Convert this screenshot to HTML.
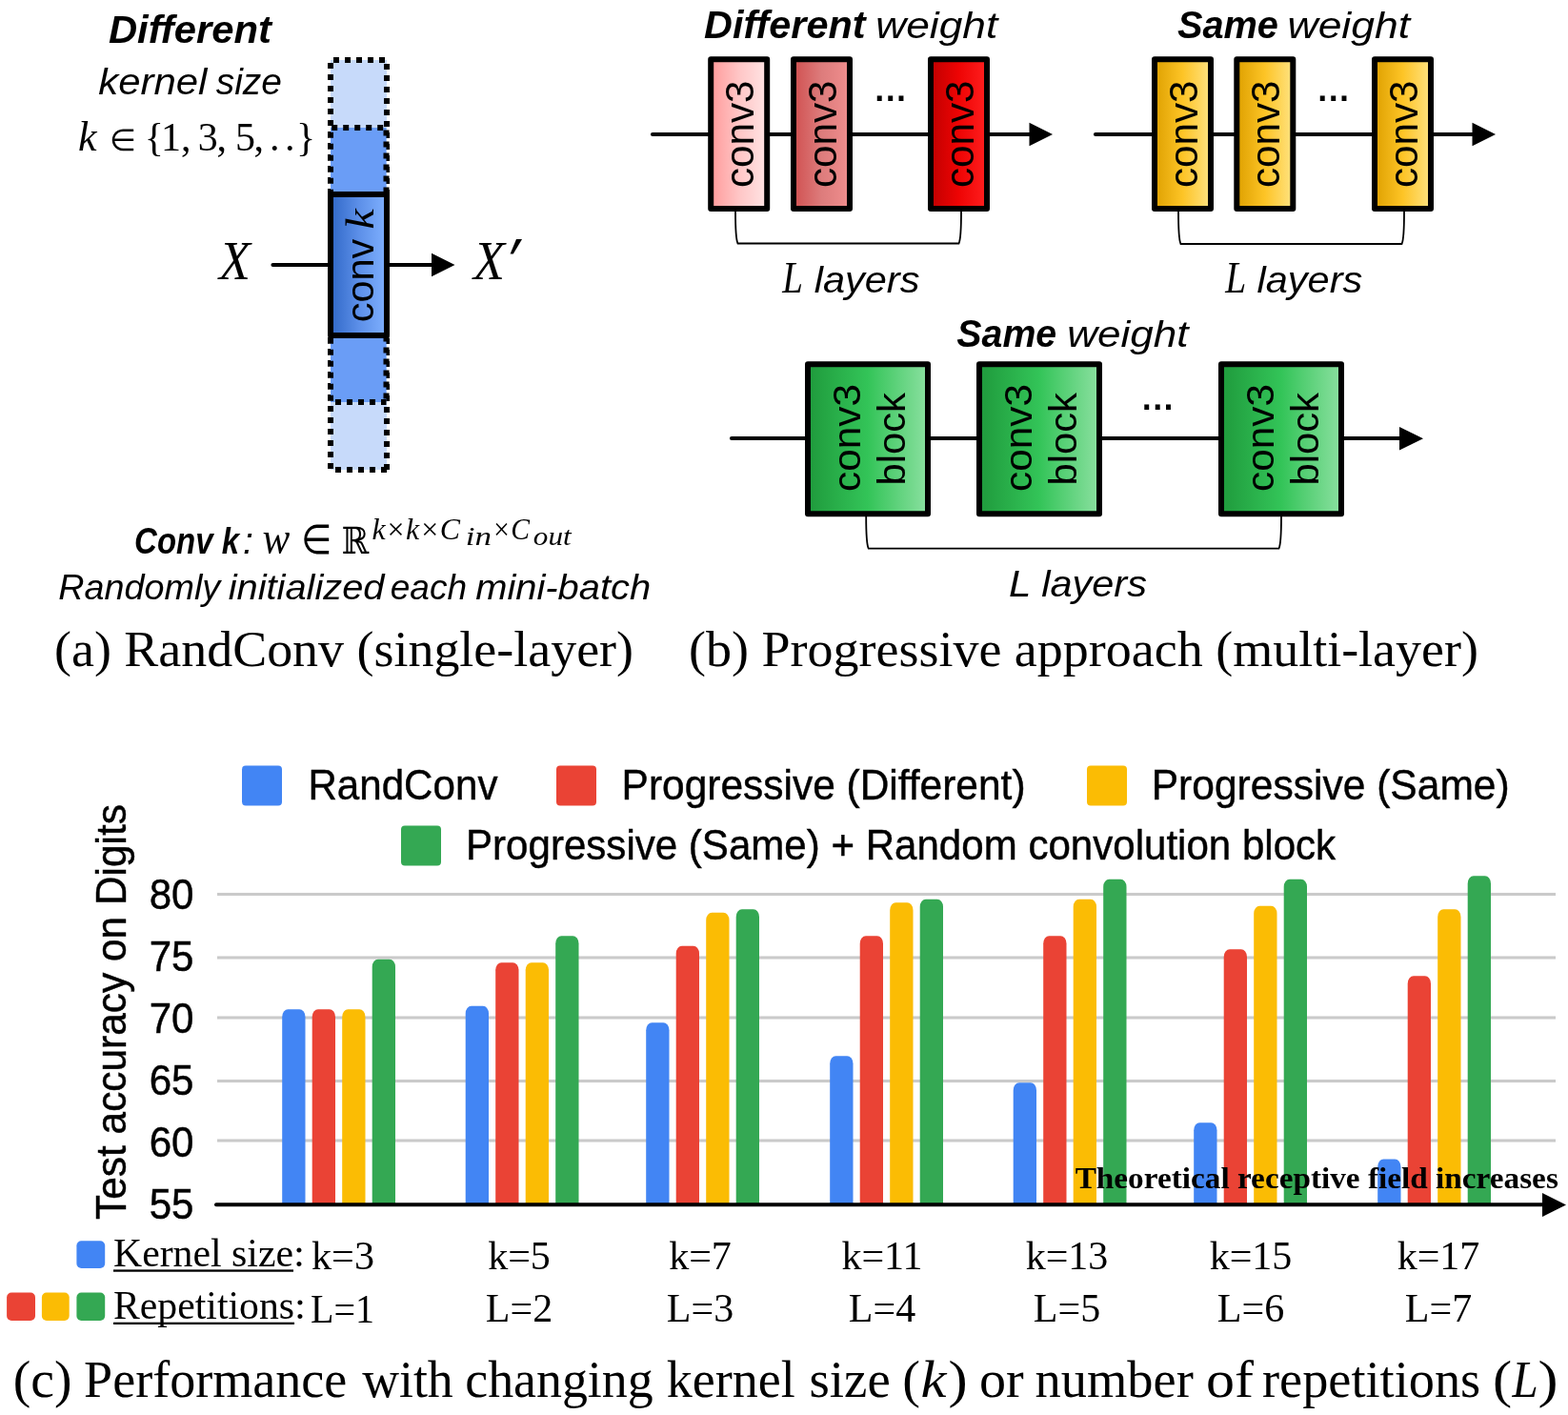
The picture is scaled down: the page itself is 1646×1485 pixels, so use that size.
<!DOCTYPE html>
<html lang="en">
<head>
<meta charset="utf-8">
<title>RandConv vs Progressive approach</title>
<style>
html,body{margin:0;padding:0;background:#fff;}
body{width:1646px;height:1485px;overflow:hidden;}
svg{display:block;}
text{white-space:pre;}
</style>
</head>
<body>
<svg width="1646" height="1485" viewBox="0 0 1646 1485">
<defs>
<linearGradient id="gBlue" x1="0" y1="0" x2="1" y2="0"><stop offset="0" stop-color="#3068c8"/><stop offset="0.5" stop-color="#5c8fe8"/><stop offset="1" stop-color="#7fb0ff"/></linearGradient>
<linearGradient id="gR1" x1="0" y1="0" x2="1" y2="0"><stop offset="0" stop-color="#ff9a9a"/><stop offset="0.5" stop-color="#ffc6c6"/><stop offset="1" stop-color="#ffe4e4"/></linearGradient>
<linearGradient id="gR2" x1="0" y1="0" x2="1" y2="0"><stop offset="0" stop-color="#d05050"/><stop offset="0.5" stop-color="#dd7c7c"/><stop offset="1" stop-color="#f08e8e"/></linearGradient>
<linearGradient id="gR3" x1="0" y1="0" x2="1" y2="0"><stop offset="0" stop-color="#c00000"/><stop offset="0.5" stop-color="#ee0404"/><stop offset="1" stop-color="#ff1f1f"/></linearGradient>
<linearGradient id="gY" x1="0" y1="0" x2="1" y2="0"><stop offset="0" stop-color="#dea000"/><stop offset="0.5" stop-color="#fdc426"/><stop offset="1" stop-color="#ffe382"/></linearGradient>
<linearGradient id="gG" x1="0" y1="0" x2="1" y2="0"><stop offset="0" stop-color="#1f9a3c"/><stop offset="0.5" stop-color="#33c458"/><stop offset="1" stop-color="#8be0a0"/></linearGradient>
</defs>
<rect x="0" y="0" width="1646" height="1485" fill="#ffffff"/>

<g id="panel-a">
<text x="113.92" y="45" font-size="40" font-family='"Liberation Sans", sans-serif' font-style="italic" font-weight="bold" fill="#000" textLength="171.06" lengthAdjust="spacingAndGlyphs">Different</text>
<text x="103.18" y="99.4" font-size="38.5" font-family='"Liberation Sans", sans-serif' font-style="italic" font-weight="normal" fill="#000" textLength="114.16" lengthAdjust="spacingAndGlyphs">kernel</text>
<text x="226.75" y="99.4" font-size="38.5" font-family='"Liberation Sans", sans-serif' font-style="italic" font-weight="normal" fill="#000" textLength="69.24" lengthAdjust="spacingAndGlyphs">size</text>
<text x="82" y="157.5" font-size="44" font-family='"Liberation Serif", serif' font-style="italic" font-weight="normal" text-anchor="start" fill="#000">k</text>
<text x="115" y="157.5" font-size="32" font-family='"DejaVu Sans", sans-serif' font-style="normal" font-weight="normal" text-anchor="start" fill="#000">∈</text>
<text y="157.5" x="151.8 169 190 207.7 227.6 247 266.6 283 299 311" font-size="42" font-family='"Liberation Serif", serif'>{1,3,5,..}</text>
<rect x="347" y="63" width="59" height="430" fill="#c7dafa"/>
<line x1="347" y1="63" x2="406" y2="63" stroke="#000" stroke-width="6" stroke-dasharray="6 6" stroke-dashoffset="-3"/>
<line x1="406" y1="63" x2="406" y2="493" stroke="#000" stroke-width="6" stroke-dasharray="6 6" stroke-dashoffset="-4"/>
<line x1="347" y1="493" x2="406" y2="493" stroke="#000" stroke-width="6" stroke-dasharray="6 6" stroke-dashoffset="-5"/>
<line x1="347" y1="63" x2="347" y2="493" stroke="#000" stroke-width="6" stroke-dasharray="6 6" stroke-dashoffset="-3"/>
<rect x="347" y="134" width="58.500" height="288" fill="#6a9df6"/>
<line x1="347" y1="134" x2="405.5" y2="134" stroke="#000" stroke-width="6" stroke-dasharray="6 6" stroke-dashoffset="-1.2"/>
<line x1="405.5" y1="134" x2="405.5" y2="422" stroke="#000" stroke-width="6" stroke-dasharray="6 6" stroke-dashoffset="-2.4"/>
<line x1="347" y1="422" x2="405.5" y2="422" stroke="#000" stroke-width="6" stroke-dasharray="6 6" stroke-dashoffset="-5"/>
<line x1="347" y1="134" x2="347" y2="422" stroke="#000" stroke-width="6" stroke-dasharray="6 6" stroke-dashoffset="-4.8"/>
<line x1="286.5" y1="278" x2="345" y2="278" stroke="#000" stroke-width="4.2" stroke-linecap="round"/>
<line x1="407" y1="278" x2="455" y2="278" stroke="#000" stroke-width="4.2"/>
<polygon points="453,265.800 477.500,278 453,290.200" fill="#000"/>
<rect x="347" y="204" width="59" height="148" fill="url(#gBlue)" stroke="#000" stroke-width="6" stroke-linejoin="round"/>
<text transform="translate(391.7 338.3) rotate(-90)" x="0" y="0" font-size="41.5" font-family='"Liberation Sans", sans-serif' font-style="normal" font-weight="normal" text-anchor="start" fill="#000">conv</text>
<text transform="translate(392 240.8) rotate(-90)" x="0" y="0" font-size="42" font-family='"Liberation Serif", serif' font-style="italic" font-weight="normal" text-anchor="start" fill="#000" textLength="21.5" lengthAdjust="spacingAndGlyphs">k</text>
<text x="230" y="293" font-size="57" font-family='"Liberation Serif", serif' font-style="italic" font-weight="normal" text-anchor="start" fill="#000" textLength="33" lengthAdjust="spacingAndGlyphs">X</text>
<text x="497" y="293" font-size="57" font-family='"Liberation Serif", serif' font-style="italic" font-weight="normal" text-anchor="start" fill="#000" textLength="33" lengthAdjust="spacingAndGlyphs">X</text>
<text x="531.5" y="302" font-size="68" font-family='"DejaVu Math TeX Gyre", "DejaVu Sans", serif' font-style="normal" font-weight="normal" text-anchor="start" fill="#000">′</text>
<text x="141.09" y="580.6" font-size="38.5" font-family='"Liberation Sans", sans-serif' font-style="italic" font-weight="bold" fill="#000" textLength="109.92" lengthAdjust="spacingAndGlyphs">Conv k</text>
<text x="255" y="580.6" font-size="39" font-family='"Liberation Sans", sans-serif' font-style="italic" font-weight="normal" text-anchor="start" fill="#000">:</text>
<text x="275.38" y="580.6" font-size="48" font-family='"Liberation Serif", serif' font-style="italic" font-weight="normal" fill="#000" textLength="28.76" lengthAdjust="spacingAndGlyphs">w</text>
<text x="315.88" y="580.6" font-size="43" font-family='"DejaVu Sans", sans-serif' font-style="normal" font-weight="normal" fill="#000" textLength="32.22" lengthAdjust="spacingAndGlyphs">∈</text>
<text x="358.55" y="580.6" font-size="39" font-family='"DejaVu Serif", serif' font-style="normal" font-weight="normal" fill="#000" textLength="28.66" lengthAdjust="spacingAndGlyphs">ℝ</text>
<text x="390.4" y="565.5" font-size="32" font-family='"Liberation Serif", serif' font-style="italic" font-weight="normal" fill="#000" textLength="92.48" lengthAdjust="spacingAndGlyphs">k×k×C</text>
<text x="488.85" y="572" font-size="27" font-family='"Liberation Serif", serif' font-style="italic" font-weight="normal" fill="#000" textLength="27.29" lengthAdjust="spacingAndGlyphs">in</text>
<text x="516.21" y="565.5" font-size="32" font-family='"Liberation Serif", serif' font-style="italic" font-weight="normal" fill="#000" textLength="39.7" lengthAdjust="spacingAndGlyphs">×C</text>
<text x="559.84" y="572" font-size="27" font-family='"Liberation Serif", serif' font-style="italic" font-weight="normal" fill="#000" textLength="39.81" lengthAdjust="spacingAndGlyphs">out</text>
<text x="61.34" y="629" font-size="37.5" font-family='"Liberation Sans", sans-serif' font-style="italic" font-weight="normal" fill="#000" textLength="169.88" lengthAdjust="spacingAndGlyphs">Randomly</text>
<text x="239.7" y="629" font-size="37.5" font-family='"Liberation Sans", sans-serif' font-style="italic" font-weight="normal" fill="#000" textLength="163.83" lengthAdjust="spacingAndGlyphs">initialized</text>
<text x="409.77" y="629" font-size="37.5" font-family='"Liberation Sans", sans-serif' font-style="italic" font-weight="normal" fill="#000" textLength="80.34" lengthAdjust="spacingAndGlyphs">each</text>
<text x="499.2" y="629" font-size="37.5" font-family='"Liberation Sans", sans-serif' font-style="italic" font-weight="normal" fill="#000" textLength="183.94" lengthAdjust="spacingAndGlyphs">mini-batch</text>
<text x="57" y="699" font-size="53" font-family='"Liberation Serif", serif' font-style="normal" font-weight="normal" text-anchor="start" fill="#000" textLength="608" lengthAdjust="spacingAndGlyphs">(a) RandConv (single-layer)</text>
</g>
<g id="panel-b">
<text x="739.12" y="40" font-size="40" font-family='"Liberation Sans", sans-serif' font-style="italic" font-weight="bold" fill="#000" textLength="169.37" lengthAdjust="spacingAndGlyphs">Different</text>
<text x="919.23" y="40" font-size="39" font-family='"Liberation Sans", sans-serif' font-style="italic" font-weight="normal" fill="#000" textLength="128.03" lengthAdjust="spacingAndGlyphs">weight</text>
<line x1="685" y1="141" x2="1083" y2="141" stroke="#000" stroke-width="4.2" stroke-linecap="round"/>
<polygon points="1080.5,128.8 1105,141 1080.5,153.2" fill="#000"/>
<rect x="746.2" y="62.2" width="59" height="156.8" fill="url(#gR1)" stroke="#000" stroke-width="6" stroke-linejoin="round"/>
<text transform="translate(790.9000000000001 197) rotate(-90)" x="0" y="0" font-size="43" font-family='"Liberation Sans", sans-serif' font-style="normal" font-weight="normal" text-anchor="start" fill="#000" textLength="112.5" lengthAdjust="spacingAndGlyphs">conv3</text>
<rect x="833" y="62.2" width="59" height="156.8" fill="url(#gR2)" stroke="#000" stroke-width="6" stroke-linejoin="round"/>
<text transform="translate(877.7 197) rotate(-90)" x="0" y="0" font-size="43" font-family='"Liberation Sans", sans-serif' font-style="normal" font-weight="normal" text-anchor="start" fill="#000" textLength="112.5" lengthAdjust="spacingAndGlyphs">conv3</text>
<rect x="977" y="62.2" width="59" height="156.8" fill="url(#gR3)" stroke="#000" stroke-width="6" stroke-linejoin="round"/>
<text transform="translate(1021.7 197) rotate(-90)" x="0" y="0" font-size="43" font-family='"Liberation Sans", sans-serif' font-style="normal" font-weight="normal" text-anchor="start" fill="#000" textLength="112.5" lengthAdjust="spacingAndGlyphs">conv3</text>
<text x="916" y="106.4" font-size="52" font-family='"Liberation Sans", sans-serif' font-style="normal" font-weight="normal" text-anchor="start" fill="#000" letter-spacing="-3.05">...</text>
<path d="M772 222 Q772 250.5 774.5 255.5 L1006.5 255.5 Q1009 250.5 1009 222" fill="none" stroke="#000" stroke-width="1.8"/>
<text x="821.22" y="306.5" font-size="46" font-family='"Liberation Serif", serif' font-style="italic" font-weight="normal" fill="#000" textLength="21.66" lengthAdjust="spacingAndGlyphs">L</text>
<text x="854.71" y="306.5" font-size="39.5" font-family='"Liberation Sans", sans-serif' font-style="italic" font-weight="normal" fill="#000" textLength="110.71" lengthAdjust="spacingAndGlyphs">layers</text>
<text x="1235.9" y="40" font-size="40" font-family='"Liberation Sans", sans-serif' font-style="italic" font-weight="bold" fill="#000" textLength="106.04" lengthAdjust="spacingAndGlyphs">Same</text>
<text x="1351.52" y="40" font-size="39" font-family='"Liberation Sans", sans-serif' font-style="italic" font-weight="normal" fill="#000" textLength="128.54" lengthAdjust="spacingAndGlyphs">weight</text>
<line x1="1150" y1="141" x2="1548" y2="141" stroke="#000" stroke-width="4.2" stroke-linecap="round"/>
<polygon points="1545.5,128.8 1570,141 1545.5,153.2" fill="#000"/>
<rect x="1212" y="62.2" width="59" height="156.8" fill="url(#gY)" stroke="#000" stroke-width="6" stroke-linejoin="round"/>
<text transform="translate(1256.7 197) rotate(-90)" x="0" y="0" font-size="43" font-family='"Liberation Sans", sans-serif' font-style="normal" font-weight="normal" text-anchor="start" fill="#000" textLength="112.5" lengthAdjust="spacingAndGlyphs">conv3</text>
<rect x="1298.3" y="62.2" width="59" height="156.8" fill="url(#gY)" stroke="#000" stroke-width="6" stroke-linejoin="round"/>
<text transform="translate(1343.0 197) rotate(-90)" x="0" y="0" font-size="43" font-family='"Liberation Sans", sans-serif' font-style="normal" font-weight="normal" text-anchor="start" fill="#000" textLength="112.5" lengthAdjust="spacingAndGlyphs">conv3</text>
<rect x="1443" y="62.2" width="59" height="156.8" fill="url(#gY)" stroke="#000" stroke-width="6" stroke-linejoin="round"/>
<text transform="translate(1487.7 197) rotate(-90)" x="0" y="0" font-size="43" font-family='"Liberation Sans", sans-serif' font-style="normal" font-weight="normal" text-anchor="start" fill="#000" textLength="112.5" lengthAdjust="spacingAndGlyphs">conv3</text>
<text x="1381" y="106.4" font-size="52" font-family='"Liberation Sans", sans-serif' font-style="normal" font-weight="normal" text-anchor="start" fill="#000" letter-spacing="-3.05">...</text>
<path d="M1237 222 Q1237 251 1239.5 256 L1471.5 256 Q1474 251 1474 222" fill="none" stroke="#000" stroke-width="1.8"/>
<text x="1286.33" y="307" font-size="46" font-family='"Liberation Serif", serif' font-style="italic" font-weight="normal" fill="#000" textLength="21.98" lengthAdjust="spacingAndGlyphs">L</text>
<text x="1319.51" y="307" font-size="39.5" font-family='"Liberation Sans", sans-serif' font-style="italic" font-weight="normal" fill="#000" textLength="110.71" lengthAdjust="spacingAndGlyphs">layers</text>
<text x="1004.31" y="363.8" font-size="40" font-family='"Liberation Sans", sans-serif' font-style="italic" font-weight="bold" fill="#000" textLength="104.92" lengthAdjust="spacingAndGlyphs">Same</text>
<text x="1120.24" y="363.8" font-size="39" font-family='"Liberation Sans", sans-serif' font-style="italic" font-weight="normal" fill="#000" textLength="127.33" lengthAdjust="spacingAndGlyphs">weight</text>
<line x1="768" y1="460" x2="1472" y2="460" stroke="#000" stroke-width="4.2" stroke-linecap="round"/>
<polygon points="1469,448.1 1494,460.3 1469,472.5" fill="#000"/>
<rect x="848" y="382.3" width="126" height="157" fill="url(#gG)" stroke="#000" stroke-width="6" stroke-linejoin="round"/>
<text transform="translate(902.5 516) rotate(-90)" x="0" y="0" font-size="41" font-family='"Liberation Sans", sans-serif' font-style="normal" font-weight="normal" text-anchor="start" fill="#000" textLength="113" lengthAdjust="spacingAndGlyphs">conv3</text>
<text transform="translate(949.5 509.6) rotate(-90)" x="0" y="0" font-size="41" font-family='"Liberation Sans", sans-serif' font-style="normal" font-weight="normal" text-anchor="start" fill="#000" textLength="97.5" lengthAdjust="spacingAndGlyphs">block</text>
<rect x="1028" y="382.3" width="126" height="157" fill="url(#gG)" stroke="#000" stroke-width="6" stroke-linejoin="round"/>
<text transform="translate(1082.5 516) rotate(-90)" x="0" y="0" font-size="41" font-family='"Liberation Sans", sans-serif' font-style="normal" font-weight="normal" text-anchor="start" fill="#000" textLength="113" lengthAdjust="spacingAndGlyphs">conv3</text>
<text transform="translate(1129.5 509.6) rotate(-90)" x="0" y="0" font-size="41" font-family='"Liberation Sans", sans-serif' font-style="normal" font-weight="normal" text-anchor="start" fill="#000" textLength="97.5" lengthAdjust="spacingAndGlyphs">block</text>
<rect x="1282" y="382.3" width="126" height="157" fill="url(#gG)" stroke="#000" stroke-width="6" stroke-linejoin="round"/>
<text transform="translate(1336.5 516) rotate(-90)" x="0" y="0" font-size="41" font-family='"Liberation Sans", sans-serif' font-style="normal" font-weight="normal" text-anchor="start" fill="#000" textLength="113" lengthAdjust="spacingAndGlyphs">conv3</text>
<text transform="translate(1383.5 509.6) rotate(-90)" x="0" y="0" font-size="41" font-family='"Liberation Sans", sans-serif' font-style="normal" font-weight="normal" text-anchor="start" fill="#000" textLength="97.5" lengthAdjust="spacingAndGlyphs">block</text>
<text x="1196.5" y="430.2" font-size="52" font-family='"Liberation Sans", sans-serif' font-style="normal" font-weight="normal" text-anchor="start" fill="#000" letter-spacing="-3.05">...</text>
<path d="M909.2 542 Q909.2 570.6 911.7 575.6 L1342.5 575.6 Q1345 570.6 1345 542" fill="none" stroke="#000" stroke-width="1.8"/>
<text x="1058.95" y="626" font-size="39" font-family='"Liberation Sans", sans-serif' font-style="italic" font-weight="normal" fill="#000" textLength="23.35" lengthAdjust="spacingAndGlyphs">L</text>
<text x="1093.21" y="626" font-size="39.5" font-family='"Liberation Sans", sans-serif' font-style="italic" font-weight="normal" fill="#000" textLength="110.71" lengthAdjust="spacingAndGlyphs">layers</text>
<text x="723" y="699" font-size="53" font-family='"Liberation Serif", serif' font-style="normal" font-weight="normal" text-anchor="start" fill="#000" textLength="829" lengthAdjust="spacingAndGlyphs">(b) Progressive approach (multi-layer)</text>
</g>
<g id="panel-c">
<rect x="254" y="803.5" width="42" height="42" rx="4" fill="#4285f4"/>
<text x="323.45" y="838.8" font-size="44" font-family='"Liberation Sans", sans-serif' font-style="normal" font-weight="normal" fill="#000" textLength="199.0" lengthAdjust="spacingAndGlyphs" stroke="#000" stroke-width="0.45">RandConv</text>
<rect x="584" y="803.5" width="42" height="42" rx="4" fill="#ea4335"/>
<text x="652.62" y="838.8" font-size="44" font-family='"Liberation Sans", sans-serif' font-style="normal" font-weight="normal" fill="#000" textLength="423.92" lengthAdjust="spacingAndGlyphs" stroke="#000" stroke-width="0.45">Progressive (Different)</text>
<rect x="1141" y="803.5" width="42" height="42" rx="4" fill="#fbbc04"/>
<text x="1208.72" y="838.8" font-size="44" font-family='"Liberation Sans", sans-serif' font-style="normal" font-weight="normal" fill="#000" textLength="375.97" lengthAdjust="spacingAndGlyphs" stroke="#000" stroke-width="0.45">Progressive (Same)</text>
<rect x="421" y="866.5" width="42" height="42" rx="4" fill="#34a853"/>
<text x="489.05" y="901.5" font-size="44" font-family='"Liberation Sans", sans-serif' font-style="normal" font-weight="normal" fill="#000" textLength="913.06" lengthAdjust="spacingAndGlyphs" stroke="#000" stroke-width="0.45">Progressive (Same) + Random convolution block</text>
<rect x="228" y="936.95" width="1405" height="3.1" fill="#cacaca"/>
<rect x="228" y="1003.45" width="1405" height="3.1" fill="#cacaca"/>
<rect x="228" y="1066.45" width="1405" height="3.1" fill="#cacaca"/>
<rect x="228" y="1132.95" width="1405" height="3.1" fill="#cacaca"/>
<rect x="228" y="1195.45" width="1405" height="3.1" fill="#cacaca"/>
<text x="156.7" y="953.6" font-size="43.5" font-family='"Liberation Sans", sans-serif' font-style="normal" font-weight="normal" text-anchor="start" fill="#000" textLength="46.8" lengthAdjust="spacingAndGlyphs" stroke="#000" stroke-width="0.45">80</text>
<text x="156.7" y="1018.6" font-size="43.5" font-family='"Liberation Sans", sans-serif' font-style="normal" font-weight="normal" text-anchor="start" fill="#000" textLength="46.8" lengthAdjust="spacingAndGlyphs" stroke="#000" stroke-width="0.45">75</text>
<text x="156.7" y="1083.6" font-size="43.5" font-family='"Liberation Sans", sans-serif' font-style="normal" font-weight="normal" text-anchor="start" fill="#000" textLength="46.8" lengthAdjust="spacingAndGlyphs" stroke="#000" stroke-width="0.45">70</text>
<text x="156.7" y="1148.6" font-size="43.5" font-family='"Liberation Sans", sans-serif' font-style="normal" font-weight="normal" text-anchor="start" fill="#000" textLength="46.8" lengthAdjust="spacingAndGlyphs" stroke="#000" stroke-width="0.45">65</text>
<text x="156.7" y="1213.6" font-size="43.5" font-family='"Liberation Sans", sans-serif' font-style="normal" font-weight="normal" text-anchor="start" fill="#000" textLength="46.8" lengthAdjust="spacingAndGlyphs" stroke="#000" stroke-width="0.45">60</text>
<text x="156.7" y="1278.6" font-size="43.5" font-family='"Liberation Sans", sans-serif' font-style="normal" font-weight="normal" text-anchor="start" fill="#000" textLength="46.8" lengthAdjust="spacingAndGlyphs" stroke="#000" stroke-width="0.45">55</text>
<text transform="translate(132 1062) rotate(-90)" font-size="44" font-family='"Liberation Sans", sans-serif' text-anchor="middle" fill="#000" textLength="436" lengthAdjust="spacingAndGlyphs" stroke="#000" stroke-width="0.45">Test accuracy on Digits</text>
<path d="M296.2 1264 V1067.2 A6.2 8 0 0 1 302.4 1059.2 H314.3 A6.2 8 0 0 1 320.5 1067.2 V1264 Z" fill="#4285f4"/>
<path d="M327.7 1264 V1067.2 A6.2 8 0 0 1 333.9 1059.2 H345.8 A6.2 8 0 0 1 352.0 1067.2 V1264 Z" fill="#ea4335"/>
<path d="M359.2 1264 V1067.2 A6.2 8 0 0 1 365.4 1059.2 H377.3 A6.2 8 0 0 1 383.5 1067.2 V1264 Z" fill="#fbbc04"/>
<path d="M390.7 1264 V1014.7 A6.2 8 0 0 1 396.9 1006.7 H408.8 A6.2 8 0 0 1 415.0 1014.7 V1264 Z" fill="#34a853"/>
<path d="M488.7 1264 V1063.7 A6.2 8 0 0 1 494.9 1055.7 H506.8 A6.2 8 0 0 1 513.0 1063.7 V1264 Z" fill="#4285f4"/>
<path d="M520.2 1264 V1018.2 A6.2 8 0 0 1 526.4 1010.2 H538.3 A6.2 8 0 0 1 544.5 1018.2 V1264 Z" fill="#ea4335"/>
<path d="M551.7 1264 V1018.2 A6.2 8 0 0 1 557.9 1010.2 H569.8 A6.2 8 0 0 1 576.0 1018.2 V1264 Z" fill="#fbbc04"/>
<path d="M583.2 1264 V990.2 A6.2 8 0 0 1 589.4 982.2 H601.3 A6.2 8 0 0 1 607.5 990.2 V1264 Z" fill="#34a853"/>
<path d="M678.2 1264 V1081.2 A6.2 8 0 0 1 684.4 1073.2 H696.3 A6.2 8 0 0 1 702.5 1081.2 V1264 Z" fill="#4285f4"/>
<path d="M709.7 1264 V1000.7 A6.2 8 0 0 1 715.9 992.7 H727.8 A6.2 8 0 0 1 734.0 1000.7 V1264 Z" fill="#ea4335"/>
<path d="M741.2 1264 V965.7 A6.2 8 0 0 1 747.4 957.7 H759.3 A6.2 8 0 0 1 765.5 965.7 V1264 Z" fill="#fbbc04"/>
<path d="M772.7 1264 V962.2 A6.2 8 0 0 1 778.9 954.2 H790.8 A6.2 8 0 0 1 797.0 962.2 V1264 Z" fill="#34a853"/>
<path d="M871.2 1264 V1116.2 A6.2 8 0 0 1 877.4 1108.2 H889.3 A6.2 8 0 0 1 895.5 1116.2 V1264 Z" fill="#4285f4"/>
<path d="M902.7 1264 V990.2 A6.2 8 0 0 1 908.9 982.2 H920.8 A6.2 8 0 0 1 927.0 990.2 V1264 Z" fill="#ea4335"/>
<path d="M934.2 1264 V955.2 A6.2 8 0 0 1 940.4 947.2 H952.3 A6.2 8 0 0 1 958.5 955.2 V1264 Z" fill="#fbbc04"/>
<path d="M965.7 1264 V951.7 A6.2 8 0 0 1 971.9 943.7 H983.8 A6.2 8 0 0 1 990.0 951.7 V1264 Z" fill="#34a853"/>
<path d="M1063.7 1264 V1144.2 A6.2 8 0 0 1 1069.9 1136.2 H1081.8 A6.2 8 0 0 1 1088.0 1144.2 V1264 Z" fill="#4285f4"/>
<path d="M1095.2 1264 V990.2 A6.2 8 0 0 1 1101.4 982.2 H1113.3 A6.2 8 0 0 1 1119.5 990.2 V1264 Z" fill="#ea4335"/>
<path d="M1126.7 1264 V951.7 A6.2 8 0 0 1 1132.9 943.7 H1144.8 A6.2 8 0 0 1 1151.0 951.7 V1264 Z" fill="#fbbc04"/>
<path d="M1158.2 1264 V930.7 A6.2 8 0 0 1 1164.4 922.7 H1176.3 A6.2 8 0 0 1 1182.5 930.7 V1264 Z" fill="#34a853"/>
<path d="M1253.2 1264 V1186.2 A6.2 8 0 0 1 1259.4 1178.2 H1271.3 A6.2 8 0 0 1 1277.5 1186.2 V1264 Z" fill="#4285f4"/>
<path d="M1284.7 1264 V1004.2 A6.2 8 0 0 1 1290.9 996.2 H1302.8 A6.2 8 0 0 1 1309.0 1004.2 V1264 Z" fill="#ea4335"/>
<path d="M1316.2 1264 V958.7 A6.2 8 0 0 1 1322.4 950.7 H1334.3 A6.2 8 0 0 1 1340.5 958.7 V1264 Z" fill="#fbbc04"/>
<path d="M1347.7 1264 V930.7 A6.2 8 0 0 1 1353.9 922.7 H1365.8 A6.2 8 0 0 1 1372.0 930.7 V1264 Z" fill="#34a853"/>
<path d="M1446.2 1264 V1224.4 A6.2 8 0 0 1 1452.4 1216.4 H1464.3 A6.2 8 0 0 1 1470.5 1224.4 V1264 Z" fill="#4285f4"/>
<path d="M1477.7 1264 V1032.2 A6.2 8 0 0 1 1483.9 1024.2 H1495.8 A6.2 8 0 0 1 1502.0 1032.2 V1264 Z" fill="#ea4335"/>
<path d="M1509.2 1264 V962.2 A6.2 8 0 0 1 1515.4 954.2 H1527.3 A6.2 8 0 0 1 1533.5 962.2 V1264 Z" fill="#fbbc04"/>
<path d="M1540.7 1264 V927.2 A6.2 8 0 0 1 1546.9 919.2 H1558.8 A6.2 8 0 0 1 1565.0 927.2 V1264 Z" fill="#34a853"/>
<line x1="227" y1="1264.2" x2="1622" y2="1264.2" stroke="#000" stroke-width="4" stroke-linecap="round"/>
<polygon points="1619,1252.1 1644,1264.5 1619,1276.9" fill="#000"/>
<text x="1128.66" y="1246.7" font-size="31" font-family='"Liberation Serif", serif' font-style="normal" font-weight="bold" fill="#000" textLength="507.18" lengthAdjust="spacingAndGlyphs">Theoretical receptive field increases</text>
<rect x="80.4" y="1302.3" width="29.8" height="28.7" rx="5" fill="#4285f4"/>
<rect x="7.1" y="1356.5" width="29.9" height="29.4" rx="5" fill="#ea4335"/>
<rect x="43.9" y="1356.5" width="28.8" height="29.4" rx="5" fill="#fbbc04"/>
<rect x="80.4" y="1356.5" width="29.8" height="29.4" rx="5" fill="#34a853"/>
<text x="119" y="1329" font-size="43" font-family='"Liberation Serif", serif' font-style="normal" font-weight="normal" text-anchor="start" fill="#000" textLength="189" lengthAdjust="spacingAndGlyphs">Kernel size</text>
<rect x="119" y="1332.4" width="189" height="2.300" fill="#000"/>
<text x="308" y="1329" font-size="43" font-family='"Liberation Serif", serif' font-style="normal" font-weight="normal" text-anchor="start" fill="#000">:</text>
<text x="327" y="1332" font-size="41.5" font-family='"Liberation Serif", serif' font-style="normal" font-weight="normal" text-anchor="start" fill="#000" textLength="66" lengthAdjust="spacingAndGlyphs">k=3</text>
<text x="119" y="1384.4" font-size="43" font-family='"Liberation Serif", serif' font-style="normal" font-weight="normal" text-anchor="start" fill="#000" textLength="190" lengthAdjust="spacingAndGlyphs">Repetitions</text>
<rect x="119" y="1387.700" width="190" height="2.300" fill="#000"/>
<text x="309" y="1384.4" font-size="43" font-family='"Liberation Serif", serif' font-style="normal" font-weight="normal" text-anchor="start" fill="#000">:</text>
<text x="326" y="1387.6" font-size="41.5" font-family='"Liberation Serif", serif' font-style="normal" font-weight="normal" text-anchor="start" fill="#000" textLength="67" lengthAdjust="spacingAndGlyphs">L=1</text>
<text x="545" y="1331.5" font-size="42" font-family='"Liberation Serif", serif' font-style="normal" font-weight="normal" text-anchor="middle" fill="#000">k=5</text>
<text x="545" y="1387" font-size="42" font-family='"Liberation Serif", serif' font-style="normal" font-weight="normal" text-anchor="middle" fill="#000">L=2</text>
<text x="735" y="1331.5" font-size="42" font-family='"Liberation Serif", serif' font-style="normal" font-weight="normal" text-anchor="middle" fill="#000">k=7</text>
<text x="735" y="1387" font-size="42" font-family='"Liberation Serif", serif' font-style="normal" font-weight="normal" text-anchor="middle" fill="#000">L=3</text>
<text x="926" y="1331.5" font-size="42" font-family='"Liberation Serif", serif' font-style="normal" font-weight="normal" text-anchor="middle" fill="#000">k=11</text>
<text x="926" y="1387" font-size="42" font-family='"Liberation Serif", serif' font-style="normal" font-weight="normal" text-anchor="middle" fill="#000">L=4</text>
<text x="1120" y="1331.5" font-size="42" font-family='"Liberation Serif", serif' font-style="normal" font-weight="normal" text-anchor="middle" fill="#000">k=13</text>
<text x="1120" y="1387" font-size="42" font-family='"Liberation Serif", serif' font-style="normal" font-weight="normal" text-anchor="middle" fill="#000">L=5</text>
<text x="1313" y="1331.5" font-size="42" font-family='"Liberation Serif", serif' font-style="normal" font-weight="normal" text-anchor="middle" fill="#000">k=15</text>
<text x="1313" y="1387" font-size="42" font-family='"Liberation Serif", serif' font-style="normal" font-weight="normal" text-anchor="middle" fill="#000">L=6</text>
<text x="1510" y="1331.5" font-size="42" font-family='"Liberation Serif", serif' font-style="normal" font-weight="normal" text-anchor="middle" fill="#000">k=17</text>
<text x="1510" y="1387" font-size="42" font-family='"Liberation Serif", serif' font-style="normal" font-weight="normal" text-anchor="middle" fill="#000">L=7</text>
<text x="13.73" y="1465.6" font-size="54" font-family='"Liberation Serif", serif' font-style="normal" font-weight="normal" fill="#000" textLength="61.68" lengthAdjust="spacingAndGlyphs">(c)</text>
<text x="88.1" y="1465.6" font-size="54" font-family='"Liberation Serif", serif' font-style="normal" font-weight="normal" fill="#000" textLength="276.16" lengthAdjust="spacingAndGlyphs">Performance</text>
<text x="380.2" y="1465.6" font-size="54" font-family='"Liberation Serif", serif' font-style="normal" font-weight="normal" fill="#000" textLength="95.56" lengthAdjust="spacingAndGlyphs">with</text>
<text x="488.31" y="1465.6" font-size="54" font-family='"Liberation Serif", serif' font-style="normal" font-weight="normal" fill="#000" textLength="197.34" lengthAdjust="spacingAndGlyphs">changing</text>
<text x="699.7" y="1465.6" font-size="54" font-family='"Liberation Serif", serif' font-style="normal" font-weight="normal" fill="#000" textLength="135.18" lengthAdjust="spacingAndGlyphs">kernel</text>
<text x="849.51" y="1465.6" font-size="54" font-family='"Liberation Serif", serif' font-style="normal" font-weight="normal" fill="#000" textLength="85.27" lengthAdjust="spacingAndGlyphs">size</text>
<text x="947.3" y="1465.6" font-size="54" font-family='"Liberation Serif", serif' font-style="normal" font-weight="normal" fill="#000" textLength="18.7" lengthAdjust="spacingAndGlyphs">(</text>
<text x="966.52" y="1465.6" font-size="54" font-family='"Liberation Serif", serif' font-style="italic" font-weight="normal" fill="#000" textLength="26.91" lengthAdjust="spacingAndGlyphs">k</text>
<text x="995.64" y="1465.6" font-size="54" font-family='"Liberation Serif", serif' font-style="normal" font-weight="normal" fill="#000" textLength="20.14" lengthAdjust="spacingAndGlyphs">)</text>
<text x="1028.02" y="1465.6" font-size="54" font-family='"Liberation Serif", serif' font-style="normal" font-weight="normal" fill="#000" textLength="46.68" lengthAdjust="spacingAndGlyphs">or</text>
<text x="1086.64" y="1465.6" font-size="54" font-family='"Liberation Serif", serif' font-style="normal" font-weight="normal" fill="#000" textLength="166.22" lengthAdjust="spacingAndGlyphs">number</text>
<text x="1265.98" y="1465.6" font-size="54" font-family='"Liberation Serif", serif' font-style="normal" font-weight="normal" fill="#000" textLength="50.01" lengthAdjust="spacingAndGlyphs">of</text>
<text x="1324.99" y="1465.6" font-size="54" font-family='"Liberation Serif", serif' font-style="normal" font-weight="normal" fill="#000" textLength="229.27" lengthAdjust="spacingAndGlyphs">repetitions</text>
<text x="1566.9" y="1465.6" font-size="54" font-family='"Liberation Serif", serif' font-style="normal" font-weight="normal" fill="#000" textLength="20.14" lengthAdjust="spacingAndGlyphs">(</text>
<text x="1587.55" y="1465.6" font-size="54" font-family='"Liberation Serif", serif' font-style="italic" font-weight="normal" fill="#000" textLength="27.26" lengthAdjust="spacingAndGlyphs">L</text>
<text x="1614.45" y="1465.6" font-size="54" font-family='"Liberation Serif", serif' font-style="normal" font-weight="normal" fill="#000" textLength="21.06" lengthAdjust="spacingAndGlyphs">)</text>
</g>
</svg>
</body>
</html>
